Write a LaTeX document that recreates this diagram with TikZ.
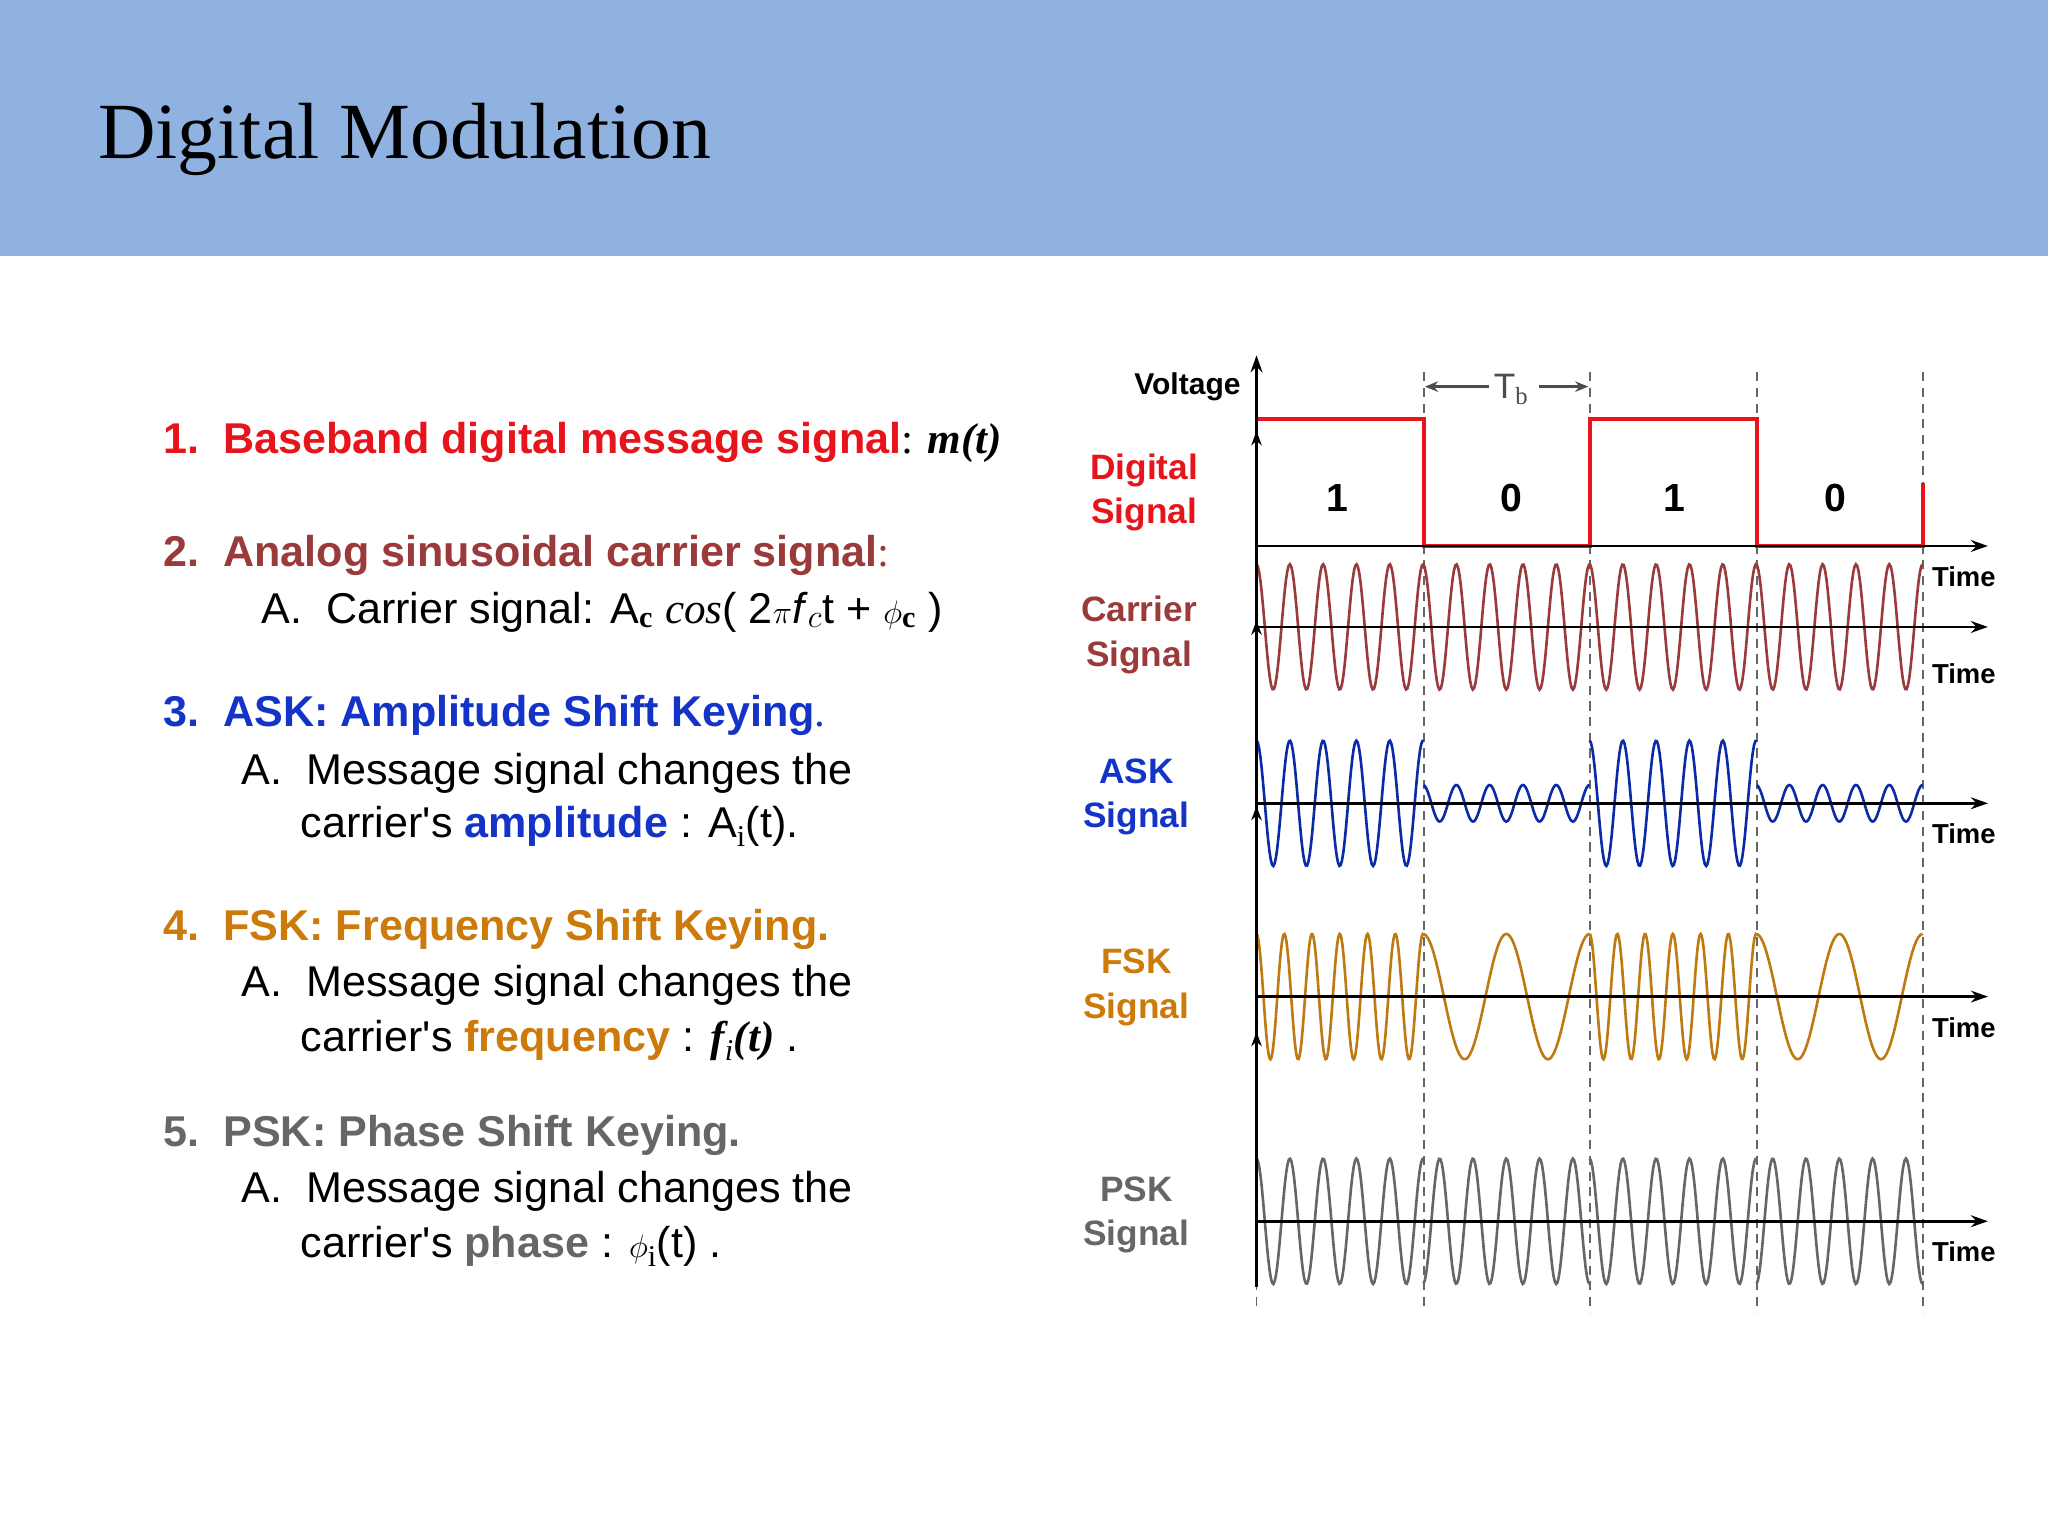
\documentclass[tikz,border=0pt]{standalone}
\usepackage{fontspec}
\setmainfont{Liberation Serif}
\newfontfamily\arial{Liberation Sans}
\usetikzlibrary{arrows.meta}
\definecolor{hdr}{HTML}{8FB2E0}
\definecolor{cred}{HTML}{E8141C}
\definecolor{cbrown}{HTML}{9A3A3A}
\definecolor{cblue}{HTML}{1434C8}
\definecolor{corange}{HTML}{CC7A0A}
\definecolor{cgray}{HTML}{666666}
\definecolor{wblue}{HTML}{0A2AA8}
\definecolor{worange}{HTML}{BE7A10}
\begin{document}
\begin{tikzpicture}[x=1pt,y=-1pt,
  item/.style={anchor=base west,inner sep=0pt,font=\arial\bfseries\fontsize{33}{38}\selectfont},
  sub/.style={anchor=base west,inner sep=0pt,font=\arial\fontsize{33}{38}\selectfont},
  lab/.style={align=center,inner sep=0pt,font=\arial\bfseries\fontsize{27}{34}\selectfont},
  tlab/.style={anchor=base west,inner sep=0pt,font=\arial\bfseries\fontsize{21}{24}\selectfont},
  bit/.style={inner sep=0pt,font=\arial\bfseries\fontsize{30}{34}\selectfont},
  ax/.style={line width=2.2pt,-{Stealth[length=13pt,width=9pt]}},
  wave/.style={line width=2pt},
  grid/.style={gray!80!black,dashed,line width=1.5pt,dash pattern=on 7pt off 5pt}]
\useasboundingbox (0,0) rectangle (1568,1176);
\fill[hdr] (0,0) rectangle (1568,196);
\node[anchor=base west,inner sep=0pt,font=\fontsize{61}{70}\selectfont] (title) at (75,121) {Digital Modulation};
% left text
\node[item,text=cred] (i1) at (125,347) {1.\ \ Baseband digital message signal\textcolor{black}{\normalfont: \textbf{\textit{\fontspec{Liberation Serif}m(t)}}}};
\node[item,text=cbrown] (i2) at (125,434) {2.\ \ Analog sinusoidal carrier signal\normalfont:};
\node[sub] (i2a) at (200,477) {A.\ \ Carrier signal: A$_\mathrm{\bf c}$ {\fontspec{Liberation Serif}\itshape cos}( 2$\pi$\textit{f}$_c$t + $\phi_\mathrm{\bf c}$ )};
\node[item,text=cblue] (i3) at (125,556) {3.\ \ ASK: Amplitude Shift Keying\normalfont.};
\node[sub] (i3a) at (185,601) {A.\ \ Message signal changes the};
\node[sub] (i3b) at (230,641) {carrier's \textcolor{cblue}{\bfseries amplitude} : A$_\mathrm{i}$(t).};
\node[item,text=corange] (i4) at (125,720) {4.\ \ FSK: Frequency Shift Keying.};
\node[sub] (i4a) at (185,763) {A.\ \ Message signal changes the};
\node[sub] (i4b) at (230,805) {carrier's \textcolor{corange}{\bfseries frequency} : {\fontspec{Liberation Serif}\bfseries\itshape f$_{\mathit i}$(t)} .};
\node[item,text=cgray] (i5) at (125,878) {5.\ \ PSK: Phase Shift Keying.};
\node[sub] (i5a) at (185,921) {A.\ \ Message signal changes the};
\node[sub] (i5b) at (230,963) {carrier's \textcolor{cgray}{\bfseries phase} : $\phi_\mathrm{i}$(t) .};
% grid
\foreach \x in {962,1090,1217,1345,1472}{\draw[grid] (\x,285) -- (\x,1005);}
% digital
\draw[cred,line width=3pt] (962,321) -- (1090,321) -- (1090,418) -- (1217,418) -- (1217,321) -- (1345,321) -- (1345,418) -- (1472,418) -- (1472,370);
% carrier
\draw[cbrown,wave] plot[domain=962:1472,samples=500] (\x,{480-48*cos(14.118*(\x-962))});
% ASK
\draw[wblue,wave] plot[domain=962:1090,samples=130] (\x,{615-48*cos(14.118*(\x-962))});
\draw[wblue,wave] plot[domain=1090:1217,samples=130] (\x,{615-14*cos(14.118*(\x-962))});
\draw[wblue,wave] plot[domain=1217:1345,samples=130] (\x,{615-48*cos(14.118*(\x-962))});
\draw[wblue,wave] plot[domain=1345:1472,samples=130] (\x,{615-14*cos(14.118*(\x-962))});
% FSK
\draw[worange,wave] plot[domain=962:1090,samples=180] (\x,{763-48*cos(16.941*(\x-962))});
\draw[worange,wave] plot[domain=1090:1217,samples=80] (\x,{763-48*cos(5.647*(\x-962))});
\draw[worange,wave] plot[domain=1217:1345,samples=180] (\x,{763-48*cos(16.941*(\x-962))});
\draw[worange,wave] plot[domain=1345:1472,samples=80] (\x,{763-48*cos(5.647*(\x-962))});
% PSK
\draw[cgray,wave] plot[domain=962:1090,samples=130] (\x,{935-48*cos(14.118*(\x-962))});
\draw[cgray,wave] plot[domain=1090:1217,samples=130] (\x,{935+48*cos(14.118*(\x-962))});
\draw[cgray,wave] plot[domain=1217:1345,samples=130] (\x,{935-48*cos(14.118*(\x-962))});
\draw[cgray,wave] plot[domain=1345:1472,samples=130] (\x,{935+48*cos(14.118*(\x-962))});
% axes
\coordinate (o) at (962,985);
\coordinate (vt) at (962,272);
\draw[ax] (o) -- (vt);
\foreach \y in {330,475,617,790}{\draw[line width=2.2pt,-{Stealth[length=11pt,width=8pt]}] (962,\y+12) -- (962,\y);}
\foreach \y in {418,480,615,763,935}{\draw[ax] (962,\y) -- (1522,\y);}
% Tb
\draw[gray!60!black,line width=2.2pt,{Stealth[length=10pt,width=8pt]}-] (1091,296) -- (1140,296);
\draw[gray!60!black,line width=2.2pt,-{Stealth[length=10pt,width=8pt]}] (1178,296) -- (1216,296);
\node[inner sep=0pt,text=gray!60!black,font=\arial\fontsize{27}{30}\selectfont] (tb) at (1157,298) {T$_\mathrm{b}$};
% labels
\node[inner sep=0pt,anchor=base east,font=\arial\bfseries\fontsize{23}{28}\selectfont] (volt) at (950,302) {Voltage};
\node[lab,text=cred] (ld) at (876,377) {Digital\\Signal};
\node[lab,text=cbrown] (lc) at (872,486) {Carrier\\Signal};
\node[lab,text=cblue] (la) at (870,610) {ASK\\Signal};
\node[lab,text=corange] (lf) at (870,756) {FSK\\Signal};
\node[lab,text=cgray] (lp) at (870,930) {PSK\\Signal};
\foreach \y/\n in {449/t1,523/t2,646/t3,794/t4,966/t5}{\node[tlab] (\n) at (1479,\y) {Time};}
\node[bit] (b1) at (1024,381) {1};
\node[bit] (b2) at (1157,381) {0};
\node[bit] (b3) at (1282,381) {1};
\node[bit] (b4) at (1405,381) {0};
\end{tikzpicture}
\end{document}
